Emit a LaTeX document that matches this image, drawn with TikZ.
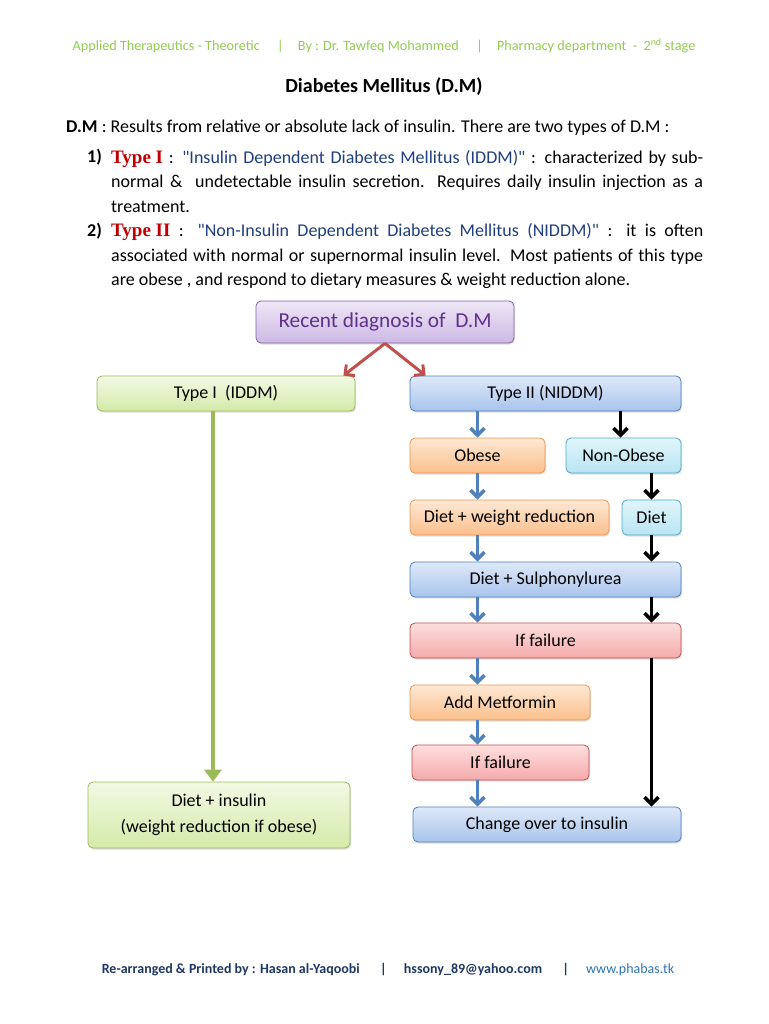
\documentclass[tikz,border=0pt]{standalone}
\usepackage{fontspec}
\setmainfont{Carlito}[Ligatures=TeXOff]
\newfontfamily\cambria{Liberation Serif}
\usetikzlibrary{arrows.meta,shadows,calc}
\definecolor{hdrgreen}{RGB}{146,205,80}
\definecolor{navy}{RGB}{31,56,100}
\definecolor{qblue}{RGB}{31,63,127}
\definecolor{typered}{RGB}{192,0,0}
\definecolor{linkblue}{RGB}{46,116,181}
\definecolor{purtxt}{RGB}{96,48,140}
\definecolor{abl}{RGB}{79,129,189}
\definecolor{ared}{RGB}{192,80,77}
\definecolor{agr}{RGB}{155,187,89}
% box colours
\definecolor{puT}{RGB}{238,230,246}\definecolor{puB}{RGB}{205,185,228}\definecolor{puD}{RGB}{128,100,162}
\definecolor{grT}{RGB}{242,249,228}\definecolor{grB}{RGB}{212,234,168}\definecolor{grD}{RGB}{155,187,89}
\definecolor{blT}{RGB}{222,233,248}\definecolor{blB}{RGB}{168,196,236}\definecolor{blD}{RGB}{79,129,189}
\definecolor{orT}{RGB}{253,232,212}\definecolor{orB}{RGB}{251,192,140}\definecolor{orD}{RGB}{240,150,80}
\definecolor{cyT}{RGB}{225,245,251}\definecolor{cyB}{RGB}{184,229,242}\definecolor{cyD}{RGB}{75,172,198}
\definecolor{rdT}{RGB}{253,222,222}\definecolor{rdB}{RGB}{245,170,170}\definecolor{rdD}{RGB}{192,80,77}
\tolerance=10000
\begin{document}
\begin{tikzpicture}[x=1pt,y=-1pt,
  box/.style={rounded corners=5pt, draw, line width=0.8pt, minimum height=35pt, inner sep=2pt,
    font=\fontsize{18}{22}\selectfont, text=black, align=center,
    drop shadow={opacity=0.25, shadow xshift=1pt, shadow yshift=-1.5pt}},
  pubox/.style={box, top color=puT, bottom color=puB, draw=puD},
  grbox/.style={box, top color=grT, bottom color=grB, draw=grD},
  blbox/.style={box, top color=blT, bottom color=blB, draw=blD},
  orbox/.style={box, top color=orT, bottom color=orB, draw=orD},
  cybox/.style={box, top color=cyT, bottom color=cyB, draw=cyD},
  rdbox/.style={box, top color=rdT, bottom color=rdB, draw=rdD},
  barrow/.style={-{Straight Barb[length=7pt,width=14pt]}, line width=3.5pt, abl},
  karrow/.style={-{Straight Barb[length=7pt,width=14pt]}, line width=3.5pt, black},
  rarrow/.style={-{Straight Barb[length=7pt,width=14pt]}, line width=3pt, ared},
  garrow/.style={-{Triangle[length=12pt,width=17pt]}, line width=4pt, agr},
  body/.style={font=\fontsize{18}{24.5}\selectfont, inner sep=0pt}
]
\fill[white] (0,0) rectangle (768,1024);
\useasboundingbox (0,0) rectangle (768,1024);

% header
\node[font=\fontsize{14.2}{16}\selectfont, text=hdrgreen] (hdr) at (384,46)
  {Applied Therapeutics - Theoretic \quad|\quad By : Dr. Tawfeq Mohammed \quad|\quad Pharmacy department \ - \ 2\textsuperscript{nd} stage};
\node[font=\fontsize{20}{22}\selectfont\bfseries] (title) at (384,87) {Diabetes Mellitus (D.M)};

% intro
\node[body, anchor=base west] (dm) at (66,133)
  {\textbf{D.M} : Results from relative or absolute lack of insulin. There are two types of D.M :};
\node[body, anchor=base west, font=\fontsize{18}{24.5}\selectfont\bfseries] (n1) at (87,162.5) {1)};
\node[body, anchor=base west, font=\fontsize{18}{24.5}\selectfont\bfseries] (n2) at (87,236.5) {2)};
\node[body, anchor=north west, text width=592pt, align=justify] (p1) at (111,150)
  {\mbox{\cambria\bfseries\fontsize{19}{24.5}\selectfont\color{typered}Type I} : {\color{qblue}"Insulin Dependent Diabetes Mellitus (IDDM)"} : characterized by sub-\linebreak normal \&\ \ undetectable insulin secretion. Requires daily insulin injection as a\linebreak treatment.};
\node[body, anchor=north west, text width=592pt, align=justify] (p2) at (111,223.5)
  {\mbox{\cambria\bfseries\fontsize{19}{24.5}\selectfont\color{typered}Type II} : {\color{qblue}"Non-Insulin Dependent Diabetes Mellitus (NIDDM)"} : it is often\linebreak associated with normal or supernormal insulin level. Most patients of this type\linebreak are obese , and respond to dietary measures \& weight reduction alone.};

% boxes
\node[pubox, minimum width=258pt, minimum height=42pt, font=\fontsize{21.3}{24}\selectfont, text=purtxt] (rd) at (385,322) {Recent diagnosis of\ \ D.M};
\node[grbox, minimum width=258pt] (t1) at (226,393.5) {Type I\ \ (IDDM)};
\node[blbox, minimum width=271pt] (t2) at (545.5,393.5) {Type II (NIDDM)};
\node[orbox, minimum width=135pt] (ob) at (477.5,455.5) {Obese};
\node[cybox, minimum width=115pt] (no) at (623.5,455.5) {Non-Obese};
\node[orbox, minimum width=199pt] (dw) at (509.5,517.5) {Diet + weight reduction};
\node[cybox, minimum width=59pt] (di) at (651.5,517.5) {Diet};
\node[blbox, minimum width=271pt] (ds) at (545.5,579.5) {Diet + Sulphonylurea};
\node[rdbox, minimum width=271pt] (f1) at (545.5,640.5) {If failure};
\node[orbox, minimum width=180pt] (am) at (500,702.5) {Add Metformin};
\node[rdbox, minimum width=177pt] (f2) at (500.5,762.5) {If failure};
\node[blbox, minimum width=268pt] (co) at (547,824.5) {Change over to insulin};
\node[grbox, minimum width=262pt, minimum height=66pt, font=\fontsize{18}{26}\selectfont] (dins) at (219,815) {Diet + insulin\\(weight reduction if obese)};

% arrows
\draw[rarrow] (rd.south) -- ($(t1.north east)+(-12,0)$);
\draw[rarrow] (rd.south) -- ($(t2.north west)+(16,0)$);
\draw[garrow] ($(t1.south)+(-13,0)$) -- ($(dins.north)+(-6,0)$);
\draw[barrow] (ob |- t2.south) -- (ob.north);
\draw[barrow] (ob.south) -- (ob |- dw.north);
\draw[barrow] (ob |- dw.south) -- (ob |- ds.north);
\draw[barrow] (ob |- ds.south) -- (ob |- f1.north);
\draw[barrow] (ob |- f1.south) -- (ob |- am.north);
\draw[barrow] (ob |- am.south) -- (ob |- f2.north);
\draw[barrow] (ob |- f2.south) -- (ob |- co.north);
\coordinate (nx) at ($(no.north)+(-3,0)$);
\draw[karrow] (nx |- t2.south) -- (nx);
\draw[karrow] (di |- no.south) -- (di.north);
\draw[karrow] (di.south) -- (di |- ds.north);
\draw[karrow] (di |- ds.south) -- (di |- f1.north);
\draw[karrow] (di |- f1.south) -- (di |- co.north);

% footer
\node[font=\fontsize{14}{16}\selectfont\bfseries, text=navy] (ftr) at (388,970)
  {Re-arranged \& Printed by : Hasan al-Yaqoobi \quad\ |\quad\ hssony\_89@yahoo.com \quad\ |\quad\ {\mdseries\color{linkblue}www.phabas.tk}};
\end{tikzpicture}
\end{document}
